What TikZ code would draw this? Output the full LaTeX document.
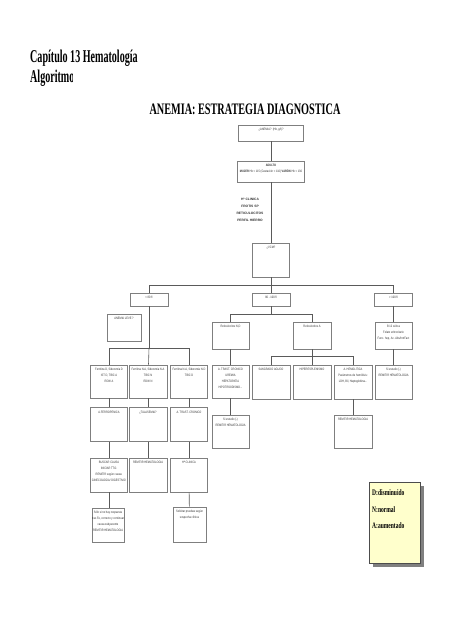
\documentclass[tikz,border=0pt]{standalone}
\usepackage{fontspec}
\setmainfont{Liberation Sans}
\newfontfamily\titfont{Liberation Serif}
\usetikzlibrary{positioning}
\usetikzlibrary{shadows}
\definecolor{borde}{HTML}{7F7F7F}
\definecolor{linea}{HTML}{5A5A5A}
\definecolor{notaamarilla}{HTML}{FFFFCC}
\newcommand{\estrecho}[2]{\scalebox{#1}[1]{#2}}
\newcommand{\caja}[3]{\parbox[c][#2][t]{#1}{\centering\vspace{1.4pt}%
  \estrecho{0.78}{\begin{tabular}{@{}c@{}}#3\end{tabular}}}}
\tikzset{
  caja/.style = {draw=borde, line width=0.6pt, inner sep=0pt,
    font=\fontsize{3.3}{6}\selectfont, text=black!80},
  conector/.style = {draw=linea, line width=0.6pt},
  titulo/.style = {font=\titfont\bfseries, inner sep=0pt, anchor=base west},
  pruebas/.style = {font=\fontsize{3.3}{7}\selectfont\bfseries, align=center,
    inner sep=0pt, text=black!80},
  leyendacaja/.style = {draw=black!70, fill=notaamarilla, line width=0.6pt,
    minimum width=51pt, minimum height=81pt, inner sep=0pt,
    drop shadow={shadow xshift=3.5pt, shadow yshift=-3.5pt, fill=gray, opacity=1}},
  leyenda/.style = {font=\titfont\bfseries\fontsize{8.5}{10}\selectfont,
    inner sep=0pt, anchor=base west}
}

\begin{document}
\begin{tikzpicture}[x=1pt, y=-1pt]
  \useasboundingbox[fill=white] (0,0) rectangle (474,632);

  % titulos
  \node[titulo] (cap) at (30,62) {\estrecho{0.56}{\fontsize{18}{20}\selectfont Capítulo 13 Hematología}};
  \begin{scope}
    \clip (0,66) rectangle (72,92);
    \node[titulo] (alg) at (30,82) {\estrecho{0.56}{\fontsize{18}{20}\selectfont Algoritmo}};
  \end{scope}
  \node[titulo, anchor=base] (tit) at (245,114) {\estrecho{0.64}{\fontsize{16}{18}\selectfont ANEMIA: ESTRATEGIA DIAGNOSTICA}};

  % tronco
  \node[caja] (anemia) at (271,133) {\caja{65pt}{16pt}{¿ANEMIA? \ (Hb, g/l)?}};
  \node[caja] (adulto) at (271,171.5) {\caja{67pt}{21pt}{\textbf{ADULTO}\\
    \textbf{MUJER} Hb < 115 (Gestación < 110) \textbf{VARÓN} Hb < 130}};
  \node[pruebas] (hc) at (250,209.5) {Hª CLINICA\\FROTIS SP\\RETICULOCITOS\\PERFIL HIERRO};
  \node[caja] (vcm) at (271,260) {\caja{37pt}{34pt}{¿VCM?}};

  \node[caja] (v1) at (149,299.5) {\caja{38pt}{13pt}{< 80 fl}};
  \node[caja] (v2) at (271,299.5) {\caja{38pt}{13pt}{80 - 100 fl}};
  \node[caja] (v3) at (393.5,299.5) {\caja{38pt}{13pt}{> 100 fl}};

  \coordinate (b1) at (271,285);
  \draw[conector] (anemia) -- (adulto);
  \draw[conector] (adulto) -- (vcm);
  \draw[conector] (vcm) -- (b1);
  \draw[conector] (b1) -| (v1);
  \draw[conector] (b1) -- (v2);
  \draw[conector] (b1) -| (v3);

  % microcitica
  \node[caja] (nota) at (124,327.5) {\caja{34pt}{27pt}{ANEMIA LEVE ?}};
  \node[caja] (fa) at (109,381.5) {\caja{37pt}{33pt}{Ferritina D, Sideremia D\\IST D, TIBC A\\RDW A}};
  \node[caja] (fb) at (148,381.5) {\caja{38pt}{33pt}{Ferritina N-A, Sideremia N-A\\TIBC N\\RDW N}};
  \node[caja] (fc) at (189,381.5) {\caja{37pt}{33pt}{Ferritina N-A, Sideremia N-D\\TIBC D}};
  \node[caja] (fe) at (109,424.5) {\caja{37pt}{34pt}{A.FERROPENICA}};
  \node[caja] (ta) at (148,424.5) {\caja{38pt}{34pt}{¿TALASEMIA?}};
  \node[caja] (tc) at (189,424.5) {\caja{37pt}{34pt}{A. TRAST. CRONICO}};
  \node[caja] (bc) at (109,475) {\caja{37pt}{34pt}{BUSCAR CAUSA\\INICIAR TTO.\\REMITIR según causa:\\GINECOLOGIA/ DIGESTIVO/}};
  \node[caja] (rh1) at (148,475) {\caja{38pt}{34pt}{REMITIR HEMATOLOGIA}};
  \node[caja] (hc2) at (189,475) {\caja{37pt}{34pt}{Hª CLINICA}};
  \node[caja] (sr) at (108,525) {\caja{32pt}{34pt}{Sólo si no hay respuesta\\tras Fe, correcto y continuar\\causa subyacente\\REMITIR HEMATOLOGIA}};
  \node[caja] (sp) at (189.5,524.5) {\caja{33pt}{35pt}{Solicitar pruebas según\\sospecha clínica}};

  \coordinate (b2) at (149,348);
  \draw[conector] (v1) -- (b2);
  \draw[conector] (b2) -| (fa);
  \draw[conector] (b2) -- (fb);
  \draw[conector] (b2) -| (fc);
  \draw[conector] (fa) -- (fe);
  \draw[conector] (fb) -- (ta);
  \draw[conector] (fc) -- (tc);
  \draw[conector] (fe) -- (bc);
  \draw[conector] (ta) -- (rh1);
  \draw[conector] (tc) -- (hc2);
  \draw[conector] (bc.south) -- (bc.south |- sr.north);
  \draw[conector] (hc2) -- (sp);

  % normocitica
  \node[caja] (rn) at (230.5,335.5) {\caja{37pt}{27pt}{Reticulocitos N,D}};
  \node[caja] (ra) at (312,335.5) {\caja{38pt}{27pt}{Reticulocitos A}};
  \node[caja] (atc) at (230.5,381.5) {\caja{37pt}{33pt}{A. TRAST. CRONICO\\UREMIA\\HEPATOPATIA\\HIPOTIROIDISMO...}};
  \node[caja] (si2) at (230.5,431.5) {\caja{37pt}{33pt}{Si estudio (-)\\REMITIR HEMATOLOGIA}};
  \node[caja] (sa) at (271,382) {\caja{38pt}{34pt}{SANGRADO AGUDO}};
  \node[caja] (hi) at (312,382) {\caja{38pt}{34pt}{HIPERESPLENISMO}};
  \node[caja] (ah) at (353,382) {\caja{38pt}{34pt}{A. HEMOLITICA\\Parámetros de hemólisis:\\LDH, Bil, Haptoglobina...}};
  \node[caja] (rh2) at (353,431.5) {\caja{38pt}{33pt}{REMITIR HEMATOLOGIA}};

  \coordinate (b3) at (271,314);
  \coordinate (b4) at (312,356);
  \draw[conector] (v2) -- (b3);
  \draw[conector] (b3) -| (rn);
  \draw[conector] (b3) -| (ra);
  \draw[conector] (rn) -- (atc);
  \draw[conector] (atc) -- (si2);
  \draw[conector] (ra) -- (b4);
  \draw[conector] (b4) -| (sa);
  \draw[conector] (b4) -- (hi);
  \draw[conector] (b4) -| (ah);
  \draw[conector] (ah) -- (rh2);

  % macrocitica
  \node[caja] (b12) at (393.5,335.5) {\caja{37pt}{27pt}{B 12 sérica\\Folato eritrocitario\\Func. hep, Ac. Abs/IntrFact}};
  \node[caja] (si1) at (393.5,382) {\caja{37pt}{34pt}{Si estudio (-)\\REMITIR HEMATOLOGIA}};
  \draw[conector] (v3) -- (b12);
  \draw[conector] (b12) -- (si1);

  % leyenda
  \node[leyendacaja] (ley) at (394.5,522.5) {};
  \node[leyenda] (ld) at (372,495) {\estrecho{0.65}{D:disminuido}};
  \node[leyenda] (ln) at (372,512) {\estrecho{0.65}{N:normal}};
  \node[leyenda] (la) at (372,528) {\estrecho{0.65}{A:aumentado}};
\end{tikzpicture}
\end{document}
